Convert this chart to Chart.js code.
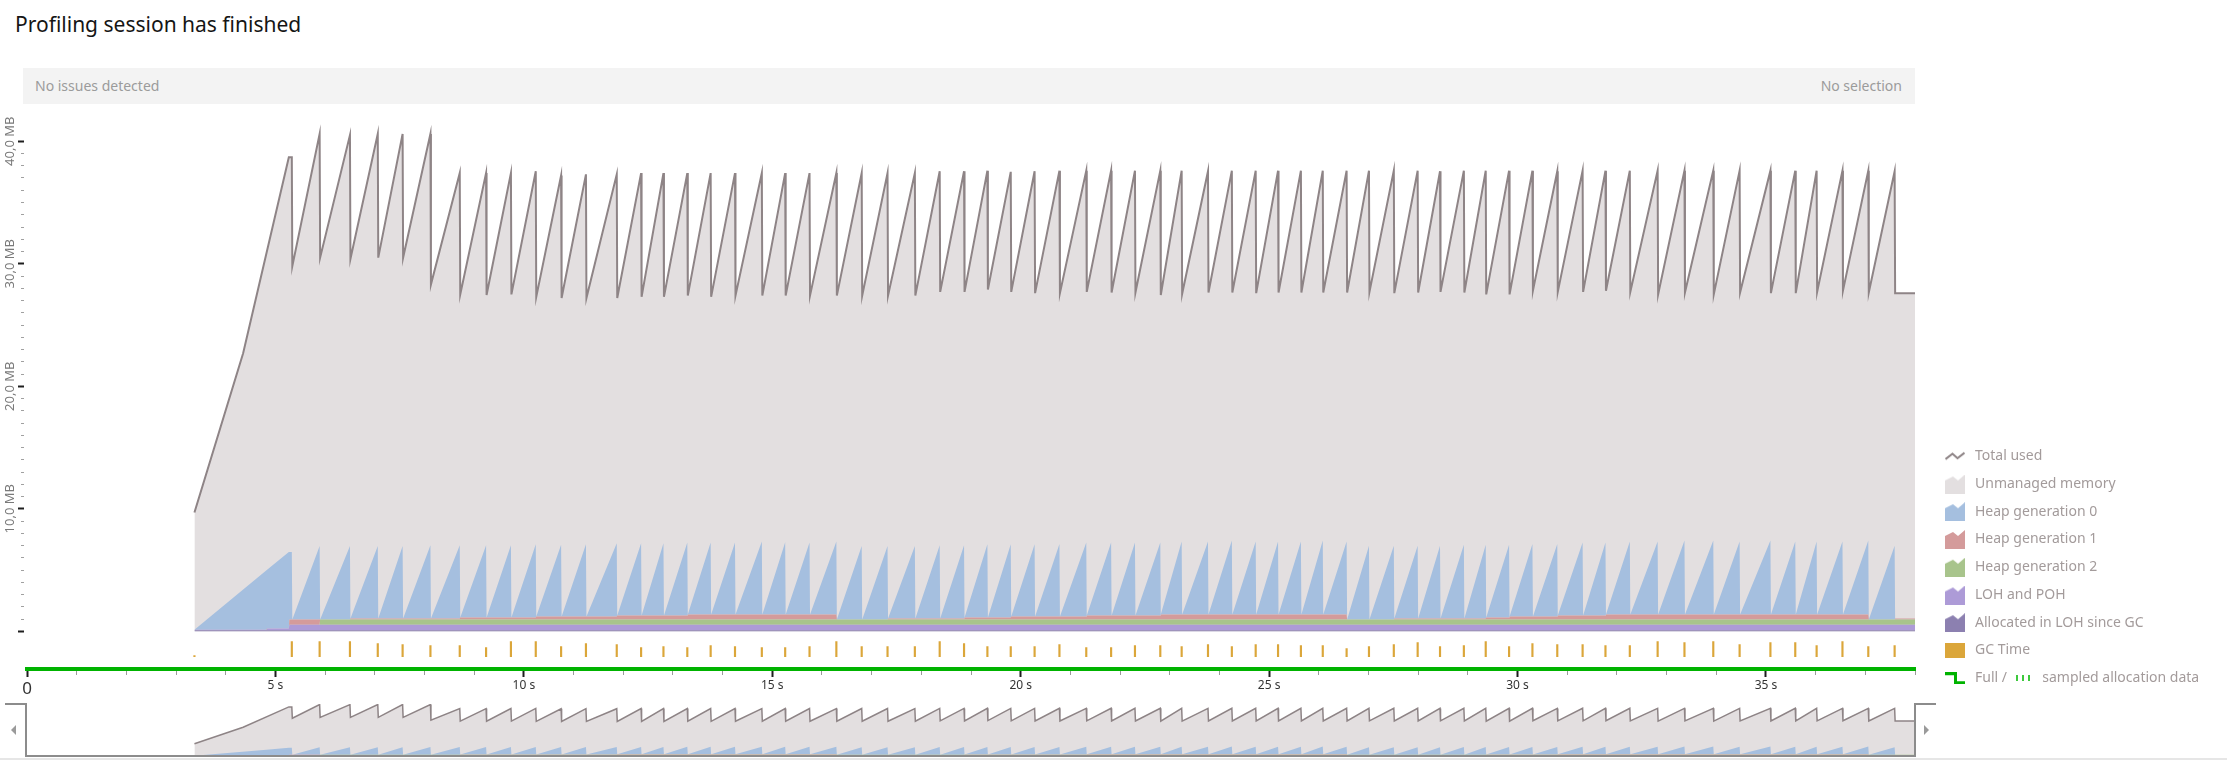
<!DOCTYPE html>
<html>
<head>
<meta charset="utf-8">
<script src="https://cdn.jsdelivr.net/npm/chart.js@4.4.1/dist/chart.umd.min.js"></script>
<style>
  html, body { margin: 0; padding: 0; background: #fff; }
  body { width: 2227px; height: 760px; position: relative; overflow: hidden; font-family: "Noto Sans", "DejaVu Sans", sans-serif; }
  #title { position: absolute; left: 15px; top: 12px; font-size: 21px; line-height: 25px; color: #151515; white-space: nowrap; }
  #bar { position: absolute; left: 23px; top: 68px; width: 1892px; height: 36px; background: #f3f3f3; font-size: 14px; line-height: 36px; color: #9b9b9b; }
  #bar .l { position: absolute; left: 12px; }
  #bar .r { position: absolute; right: 13px; }
  #main { position: absolute; left: 0; top: 104px; }
  #over { position: absolute; left: 0; top: 700px; }
  .ln { position: absolute; border: 0 solid #8c8c8c; }
  .tri { position: absolute; width: 0; height: 0; border-top: 5px solid transparent; border-bottom: 5px solid transparent; }
  #strip { position: absolute; left: 0; top: 758px; width: 2227px; height: 2px; background: #e6e6e6; }
</style>
</head>
<body>
<div id="title">Profiling session has finished</div>
<div id="bar"><span class="l">No issues detected</span><span class="r">No selection</span></div>
<canvas id="main" width="2227" height="596"></canvas>
<canvas id="over" width="1916" height="58"></canvas>
<div class="ln" style="left:5px;top:703px;width:21px;border-top-width:2px"></div>
<div class="ln" style="left:25px;top:703px;height:54px;border-left-width:2px"></div>
<div class="ln" style="left:25px;top:755px;width:1891px;border-top-width:2px"></div>
<div class="ln" style="left:1914px;top:703px;height:54px;border-left-width:2px"></div>
<div class="ln" style="left:1914px;top:703px;width:22px;border-top-width:2px"></div>
<div class="tri" style="left:11px;top:725px;border-right:5px solid #9a9a9a"></div>
<div class="tri" style="left:1924px;top:725px;border-left:5px solid #9a9a9a"></div>
<div id="strip"></div>
<script>
// GC events: time of the drop (s)
const gcTimes = [5.33, 5.89, 6.50, 7.06, 7.56, 8.12, 8.71, 9.24, 9.74, 10.24,
  10.75, 11.25, 11.87, 12.36, 12.81, 13.29, 13.76, 14.25, 14.79, 15.26,
  15.75, 16.29, 16.80, 17.32, 17.87, 18.37, 18.86, 19.33, 19.80, 20.28,
  20.78, 21.32, 21.82, 22.30, 22.81, 23.24, 23.77, 24.25, 24.73, 25.18,
  25.64, 26.08, 26.56, 27.01, 27.51, 27.99, 28.44, 28.92, 29.36, 29.83,
  30.30, 30.80, 31.31, 31.77, 32.26, 32.82, 33.36, 33.94, 34.47, 35.09,
  35.59, 36.02, 36.54, 37.06, 37.59];
// total used (MB) just before / just after each GC
const peakTotal = [38.7, 40.6, 40.5, 40.6, 40.6, 40.6, 37.4, 37.4, 37.4, 37.55,
  37.2, 37.3, 37.3, 37.4, 37.4, 37.4, 37.4, 37.4, 37.4, 37.4,
  37.4, 37.4, 37.4, 37.4, 37.4, 37.55, 37.55, 37.6, 37.5, 37.55,
  37.6, 37.6, 37.6, 37.6, 37.6, 37.6, 37.55, 37.6, 37.6, 37.6,
  37.6, 37.6, 37.6, 37.6, 37.6, 37.6, 37.55, 37.6, 37.6, 37.6,
  37.6, 37.55, 37.6, 37.6, 37.6, 37.6, 37.6, 37.6, 37.6, 37.6,
  37.6, 37.6, 37.6, 37.6, 37.55];
const troughTotal = [29.8, 30.5, 30.4, 30.5, 30.5, 28.3, 27.5, 27.45, 27.5, 27.3,
  27.2, 27.2, 27.2, 27.3, 27.3, 27.4, 27.3, 27.4, 27.4, 27.4,
  27.4, 27.4, 27.4, 27.4, 27.4, 27.7, 27.7, 27.9, 27.7, 27.6,
  27.6, 27.7, 27.65, 27.65, 27.45, 27.55, 27.65, 27.65, 27.6, 27.65,
  27.65, 27.65, 27.65, 27.7, 27.6, 27.65, 27.7, 27.65, 27.5, 27.5,
  27.8, 27.7, 27.7, 27.8, 27.7, 27.5, 27.65, 27.5, 27.65, 27.6,
  27.6, 27.7, 27.8, 27.65, 27.6];
// heap generation 0 (MB) just before each GC
const heap0Peak = [5.51, 6.00, 6.00, 5.92, 5.92, 5.98, 5.98, 5.90, 5.90, 5.98,
  5.86, 5.89, 5.97, 5.89, 5.89, 5.95, 5.87, 5.87, 5.95, 5.89,
  5.87, 5.95, 6.00, 6.00, 5.92, 5.98, 5.98, 5.98, 5.98, 5.89,
  5.92, 6.03, 5.95, 5.95, 5.95, 5.95, 5.95, 6.03, 5.95, 5.95,
  5.95, 6.03, 5.95, 6.03, 6.03, 5.95, 5.95, 6.03, 6.03, 5.95,
  5.92, 5.92, 5.95, 5.95, 5.95, 5.95, 6.03, 6.03, 5.95, 6.03,
  5.95, 5.95, 5.95, 6.03, 6.03];
// GC pause per event (ms)
const gcPause = [15, 15, 15, 13, 12, 11, 11, 9, 15, 15,
  10, 13, 12, 9, 10, 9, 11, 10, 9, 9,
  10, 15, 10, 10, 10, 15, 13, 10, 10, 10,
  12, 9, 9, 11, 11, 10, 12, 10, 12, 12,
  11, 11, 8, 10, 12, 14, 10, 11, 15, 10,
  13, 12, 12, 11, 11, 15, 14, 15, 12, 14,
  14, 11, 15, 10, 11];
const startupGc = { t: 3.37, ms: 1 };

// start-up ramp before the first GC
const rampTotalTimes = [3.37, 4.35, 5.27];
const rampTotal = [9.7, 22.7, 38.7];
const rampHeapTimes = [3.37, 4.82, 4.83, 5.27, 5.28];
const rampHeap0 = [0, 4.85, 4.75, 6.24, 5.51];
const endTime = 38;

// step levels (MB), each value holds after its time
const gen1StepT = [0, 5.275, 5.89, 6.50, 8.71, 10.24, 11.87, 13.29, 16.29, 17.32, 18.86,
  19.80, 21.32, 22.81, 26.56, 27.51, 29.36, 29.83, 30.80, 31.77, 37.06, 37.59];
const gen1StepV = [0, 0.43, 0, 0.08, 0.16, 0.25, 0.33, 0.41, 0, 0.08, 0.16,
  0.25, 0.33, 0.41, 0, 0.08, 0.16, 0.25, 0.33, 0.41, 0, 0.08];
const gen2StepT = [0, 5.89];
const gen2StepV = [0, 0.43];
const lohStepT = [0, 4.825, 5.275];
const lohStepV = [0.05, 0.15, 0.45];
const allocLohStepT = [0];
const allocLohStepV = [0.08];

const yTickValues = [10, 20, 30, 40];
const yTickLabels = ['10,0 MB', '20,0 MB', '30,0 MB', '40,0 MB'];
const xTickValues = [0, 5, 10, 15, 20, 25, 30, 35];
const xTickLabels = ['0', '5 s', '10 s', '15 s', '20 s', '25 s', '30 s', '35 s'];
const legendNames = ['Total used', 'Unmanaged memory', 'Heap generation 0', 'Heap generation 1',
  'Heap generation 2', 'LOH and POH', 'Allocated in LOH since GC', 'GC Time',
  'Full / \u2003\u2003 sampled allocation data'];

const FONT = '"Noto Sans", "DejaVu Sans", sans-serif';
const C = {
  total: '#8e8486', unmanaged: '#e3dfe0', gen0: '#a5bfdf', gen1: '#d49b9b',
  gen2: '#a8c48c', loh: '#ad9bd7', allocLoh: '#8c80b0', gc: '#dba63a', green: '#00b300'
};

// point lists
const totalPts = rampTotalTimes.map((t, i) => ({ x: t, y: rampTotal[i] }));
gcTimes.forEach((t, i) => {
  totalPts.push({ x: t, y: peakTotal[i] }, { x: t + 0.01, y: troughTotal[i] });
});
totalPts.push({ x: endTime, y: troughTotal[troughTotal.length - 1] });

const heapX = rampHeapTimes.slice();
const heap0Vals = rampHeap0.slice();
gcTimes.forEach((t, i) => { heapX.push(t, t + 0.01); heap0Vals.push(heap0Peak[i], 0); });
heapX.push(endTime);
heap0Vals.push(0);

function stepAt(ts, vs, x) {
  let v = vs[0];
  for (let i = 0; i < ts.length; i++) if (ts[i] < x) v = vs[i];
  return v;
}
const pts = vals => heapX.map((x, i) => ({ x, y: vals[i] }));
const stepPts = (ts, vs) => heapX.map(x => ({ x, y: stepAt(ts, vs, x) }));
const gcPts = [{ x: startupGc.t, y: startupGc.ms }].concat(gcTimes.map((t, i) => ({ x: t, y: gcPause[i] })));

function area(label, data, color, fill) {
  return { label, data, backgroundColor: color, borderWidth: 0, pointRadius: 0, fill, stack: 'heap', tension: 0 };
}
function heapSets() {
  return [
    area('Allocated in LOH since GC', stepPts(allocLohStepT, allocLohStepV), C.allocLoh, 'origin'),
    area('LOH and POH', stepPts(lohStepT, lohStepV), C.loh, '-1'),
    area('Heap generation 2', stepPts(gen2StepT, gen2StepV), C.gen2, '-1'),
    area('Heap generation 1', stepPts(gen1StepT, gen1StepV), C.gen1, '-1'),
    area('Heap generation 0', pts(heap0Vals), C.gen0, '-1')
  ];
}
function memSets(lineW) {
  return [
    { label: 'Unmanaged memory', data: totalPts, backgroundColor: C.unmanaged, borderWidth: 0, pointRadius: 0, fill: 'origin', stack: 'u', order: 5 },
    { label: 'Total used', data: totalPts, borderColor: C.total, borderWidth: lineW, pointRadius: 0, fill: false, stack: 't', order: -1 }
  ];
}

// legend icons
function icon(kind, color) {
  const c = document.createElement('canvas');
  const g = c.getContext('2d');
  if (kind === 'line') {
    c.width = 20; c.height = 10;
    g.strokeStyle = color; g.lineWidth = 2;
    g.beginPath(); g.moveTo(0.5, 8); g.lineTo(7.5, 2.5); g.lineTo(12.5, 7); g.lineTo(19.5, 1.5); g.stroke();
  } else if (kind === 'area') {
    c.width = 20; c.height = 19;
    g.fillStyle = color;
    g.beginPath(); g.moveTo(0, 19); g.lineTo(0, 6); g.lineTo(8, 2); g.lineTo(13, 6); g.lineTo(20, 0); g.lineTo(20, 19); g.closePath(); g.fill();
  } else if (kind === 'box') {
    c.width = 20; c.height = 15;
    g.fillStyle = color; g.fillRect(0, 0, 20, 15);
  } else {
    c.width = 20; c.height = 12;
    g.strokeStyle = color; g.lineWidth = 3;
    g.beginPath(); g.moveTo(0, 1.5); g.lineTo(10.5, 1.5); g.lineTo(10.5, 10.5); g.lineTo(20, 10.5); g.stroke();
  }
  return c;
}
const legendIcons = [icon('line', C.total), icon('area', C.unmanaged), icon('area', C.gen0), icon('area', C.gen1),
  icon('area', C.gen2), icon('area', C.loh), icon('area', C.allocLoh), icon('box', C.gc), icon('step', C.green)];
const legendItems = legendNames.map((text, i) => ({
  text, pointStyle: legendIcons[i], fillStyle: 'transparent', strokeStyle: 'transparent',
  lineWidth: 0, hidden: false, fontColor: '#a39b9b', datasetIndex: i
}));

// keep the legend column at a fixed width and position
const LEGEND_W = 312;
const legendPlacer = {
  id: 'legendPlacer',
  beforeLayout(chart) {
    const lg = chart.legend;
    if (lg && !lg._pinned) {
      const fit = lg.fit;
      lg.fit = function () { fit.call(this); this.width = LEGEND_W; };
      lg._pinned = true;
    }
  },
  afterLayout(chart) {
    const lg = chart.legend;
    lg.left += 13.25; lg.right += 13.25; lg.bottom -= 1;
  },
  afterDraw(chart) {
    // dotted "sampled" marker inside the last label
    const lg = chart.legend, ctx = chart.ctx;
    const x0 = lg.left + 13.75 + 26 + 7;
    const yc = lg.bottom - 27.75 + 7;
    ctx.save();
    ctx.font = '14px ' + FONT;
    const w = ctx.measureText('Full / ').width;
    ctx.fillStyle = '#3ec93e';
    for (let k = 0; k < 3; k++) ctx.fillRect(Math.round(x0 + w + 5 + k * 6), Math.round(yc - 3), 2, 6);
    ctx.restore();
  }
};

const mctx = document.createElement('canvas').getContext('2d');
mctx.font = '13px ' + FONT;
const yPad = 27 - 9 - mctx.measureText(yTickLabels[3]).width / 2 - 10.5;
const isMajorY = c => c.tick && c.tick.value % 10 === 0;
const isMajorX = c => c.tick && c.tick.value % 5 === 0;

new Chart(document.getElementById('main'), {
  type: 'line',
  data: {
    datasets: heapSets().concat(memSets(2), [{
      type: 'bar', label: 'GC Time', data: gcPts, yAxisID: 'gc',
      backgroundColor: C.gc, barThickness: 1.5, borderWidth: 0
    }])
  },
  options: {
    responsive: false, animation: false, events: [], devicePixelRatio: 1,
    layout: { padding: { top: 12.5, left: 0, right: 0, bottom: 0 } },
    scales: {
      x: {
        type: 'linear', min: 0, max: endTime, offset: false,
        border: { display: true, color: C.green, width: 4 },
        grid: {
          offset: false, drawOnChartArea: false, tickLength: 8,
          tickColor: c => isMajorX(c) ? '#1e1e1e' : '#9a9a9a',
          tickWidth: c => isMajorX(c) ? 2 : 1,
          tickBorderDash: c => isMajorX(c) ? [] : [4, 20]
        },
        ticks: {
          autoSkip: false, maxRotation: 0, padding: 1.5, color: '#333',
          font: c => ({ family: FONT, size: c.tick && c.tick.value === 0 ? 17 : 12 }),
          callback: v => { const k = xTickValues.indexOf(v); return k >= 0 ? xTickLabels[k] : ''; }
        },
        afterBuildTicks: s => { const t = []; for (let v = 0; v <= endTime; v++) t.push({ value: v }); s.ticks = t; },
        afterFit: s => { s.height = 31; }
      },
      y: {
        stacked: true, min: -3.08, max: 42.02,
        border: { display: false },
        grid: {
          drawOnChartArea: false, tickLength: 9,
          tickColor: c => isMajorY(c) ? '#1e1e1e' : '#a0a0a0',
          tickWidth: c => isMajorY(c) ? 2 : 1,
          tickBorderDash: c => isMajorY(c) ? [6, 20] : [0, 3, 3, 20]
        },
        ticks: {
          autoSkip: false, minRotation: 90, maxRotation: 90, crossAlign: 'center', padding: yPad,
          color: '#7a7a7a', font: { family: FONT, size: 13 },
          callback: v => { const k = yTickValues.indexOf(v); return k >= 0 ? yTickLabels[k] : ''; }
        },
        afterBuildTicks: s => { const t = []; for (let v = 0; v <= 40; v++) t.push({ value: v }); s.ticks = t; },
        afterFit: s => { s.width = 27; }
      },
      gc: { type: 'linear', display: false, min: -12.3, max: 540.2 }
    },
    plugins: {
      tooltip: { enabled: false },
      legend: {
        position: 'right', align: 'end',
        labels: {
          usePointStyle: true, pointStyleWidth: 26, padding: 13.75, color: '#a39b9b',
          font: { family: FONT, size: 14 },
          generateLabels: () => legendItems
        }
      }
    }
  },
  plugins: [legendPlacer]
});

new Chart(document.getElementById('over'), {
  type: 'line',
  data: { datasets: heapSets().concat(memSets(1.5)) },
  options: {
    responsive: false, animation: false, events: [], devicePixelRatio: 1,
    layout: { padding: { left: 27, right: 1, top: 4, bottom: 2 } },
    scales: {
      x: { type: 'linear', display: false, min: 0, max: endTime },
      y: { display: false, stacked: true, min: 0, max: 41 }
    },
    plugins: { legend: { display: false }, tooltip: { enabled: false } }
  }
});
</script>
</body>
</html>
